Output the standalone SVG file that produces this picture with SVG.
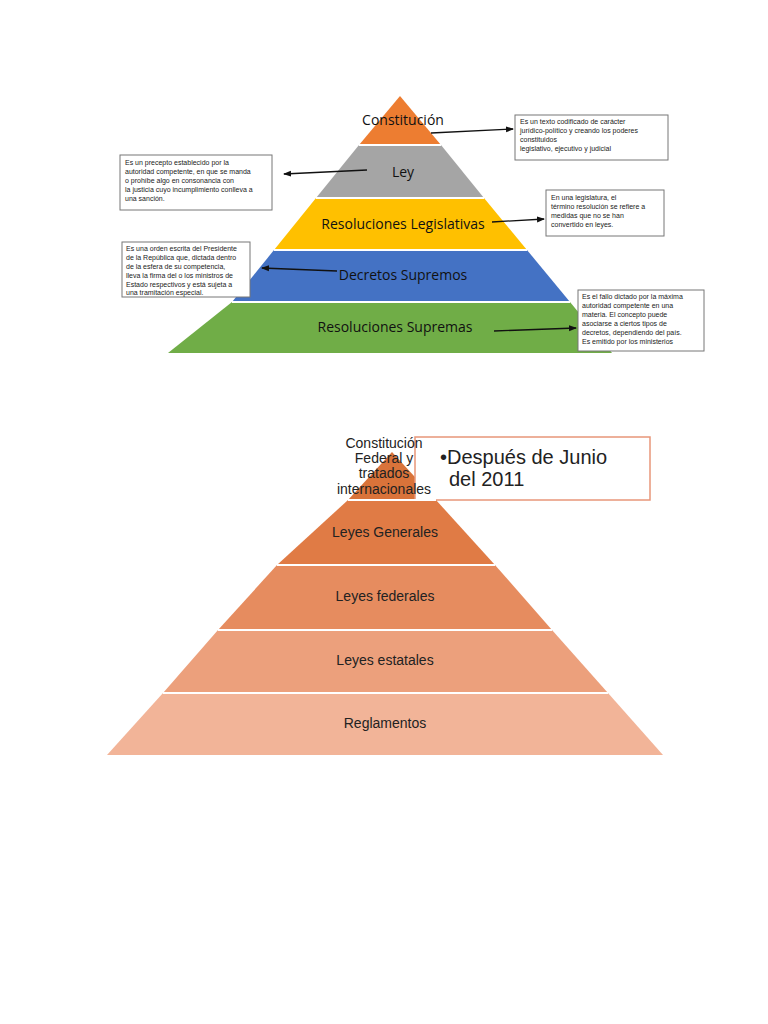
<svg xmlns="http://www.w3.org/2000/svg" width="768" height="1024" viewBox="0 0 768 1024">
<defs>
<marker id="ah" markerWidth="8" markerHeight="8" refX="7" refY="4" orient="auto" markerUnits="userSpaceOnUse"><path d="M0,1 L8,4 L0,7 z" fill="#111"/></marker>
<style>
.lab{font-family:"Open Sans","Liberation Sans",sans-serif;fill:#111;text-anchor:middle}
.sm{font-family:"Liberation Sans",Arial,sans-serif;font-size:7px;fill:#222}
.box{fill:#fff;stroke:#777;stroke-width:1}
.b2{font-family:"Liberation Sans",Arial,sans-serif;fill:#222;text-anchor:middle;font-size:14px}
.sep{stroke:#fff;stroke-width:2}
.arr{stroke:#111;stroke-width:1.3;fill:none;marker-end:url(#ah)}
</style>
</defs>
<rect width="768" height="1024" fill="#fff"/>
<g id="pyramid1">
<g id="constitucion"><polygon points="400,96 441,145 359,145" fill="#ED7D31"/><text class="lab" x="403" y="125" font-size="14">Constitución</text></g>
<g id="ley"><polygon points="359,145 441,145 484,198 316,198" fill="#A5A5A5"/><text class="lab" x="403" y="177" font-size="14">Ley</text></g>
<g id="res-leg"><polygon points="316,198 484,198 527,250 274,250" fill="#FFC000"/><text class="lab" x="403" y="229" font-size="14">Resoluciones Legislativas</text></g>
<g id="decretos"><polygon points="274,250 527,250 570,302 232,302" fill="#4472C4"/><text class="lab" x="403" y="280" font-size="14">Decretos Supremos</text></g>
<g id="res-sup"><polygon points="232,302 570,302 612,353 168,353" fill="#70AD47"/><text class="lab" x="395" y="332" font-size="14">Resoluciones Supremas</text></g>
<line class="sep" x1="359" y1="145" x2="441" y2="145"/><line class="sep" x1="316" y1="198" x2="484" y2="198"/><line class="sep" x1="274" y1="250" x2="527" y2="250"/><line class="sep" x1="232" y1="302" x2="570" y2="302"/>
</g>
<g id="box-const"><rect class="box" x="515" y="115" width="153" height="45"/>
<text class="sm" x="520" y="124">Es un texto codificado de carácter</text><text class="sm" x="520" y="133">jurídico-político y creando los poderes</text><text class="sm" x="520" y="142">constituidos</text><text class="sm" x="520" y="151">legislativo, ejecutivo y judicial</text></g>
<g id="box-ley"><rect class="box" x="120" y="155" width="152" height="55"/>
<text class="sm" x="125" y="165">Es un precepto establecido por la</text><text class="sm" x="125" y="174">autoridad competente, en que se manda</text><text class="sm" x="125" y="183">o prohíbe algo en consonancia con</text><text class="sm" x="125" y="192">la justicia cuyo incumplimiento conlleva a</text><text class="sm" x="125" y="201">una sanción.</text></g>
<g id="box-resleg"><rect class="box" x="546" y="190" width="118" height="46"/>
<text class="sm" x="551" y="200">En una legislatura, el</text><text class="sm" x="551" y="209">término resolución se refiere a</text><text class="sm" x="551" y="218">medidas que no se han</text><text class="sm" x="551" y="227">convertido en leyes.</text></g>
<g id="box-decretos"><rect class="box" x="122" y="242" width="128" height="55"/>
<text class="sm" x="126" y="251">Es una orden escrita del Presidente</text><text class="sm" x="126" y="260">de la República que, dictada dentro</text><text class="sm" x="126" y="269">de la esfera de su competencia,</text><text class="sm" x="126" y="278">lleva la firma del o los ministros de</text><text class="sm" x="126" y="287">Estado respectivos y está sujeta a</text><text class="sm" x="126" y="295">una tramitación especial.</text></g>
<g id="box-ressup"><rect class="box" x="578" y="290" width="126" height="61"/>
<text class="sm" x="582" y="299">Es el fallo dictado por la máxima</text><text class="sm" x="582" y="308">autoridad competente en una</text><text class="sm" x="582" y="317">materia. El concepto puede</text><text class="sm" x="582" y="326">asociarse a ciertos tipos de</text><text class="sm" x="582" y="335">decretos, dependiendo del país.</text><text class="sm" x="582" y="344">Es emitido por los ministerios</text></g>
<g id="connectors">
<line class="arr" x1="431" y1="133" x2="513" y2="129"/>
<line class="arr" x1="367" y1="170" x2="284" y2="174"/>
<line class="arr" x1="492" y1="222" x2="544" y2="219"/>
<line class="arr" x1="337" y1="271" x2="262" y2="268"/>
<line class="arr" x1="494" y1="331" x2="576" y2="328"/>
</g>
<g id="pyramid2">
<g id="p2-const"><polygon points="392,452 436,500 348,500" fill="#D9733A"/></g>
<g id="p2-box"><rect x="415" y="437" width="235" height="63" fill="#fff" stroke="#E8967A" stroke-width="1.5"/><text font-family="Liberation Sans,Arial,sans-serif" font-size="20" fill="#222" x="440" y="464">•Después de Junio</text><text font-family="Liberation Sans,Arial,sans-serif" font-size="20" fill="#222" x="449" y="486">del 2011</text></g>
<g id="p2-consttext"><text class="b2" font-size="12" x="384" y="448">Constitución</text><text class="b2" font-size="12" x="384" y="463">Federal y</text><text class="b2" font-size="12" x="384" y="478">tratados</text><text class="b2" font-size="12" x="384" y="494">internacionales</text></g>
<g id="p2-generales"><polygon points="348,500 436,500 495,565 277,565" fill="#E07B45"/><text class="b2" x="385" y="537">Leyes Generales</text></g>
<g id="p2-federales"><polygon points="277,565 495,565 552,630 218,630" fill="#E68C5F"/><text class="b2" x="385" y="601">Leyes federales</text></g>
<g id="p2-estatales"><polygon points="218,630 552,630 608,693 163,693" fill="#ECA07C"/><text class="b2" x="385" y="665">Leyes estatales</text></g>
<g id="p2-reglamentos"><polygon points="163,693 608,693 663,755 107,755" fill="#F2B498"/><text class="b2" x="385" y="728">Reglamentos</text></g>
<line class="sep" x1="348" y1="500" x2="436" y2="500"/><line class="sep" x1="277" y1="565" x2="495" y2="565"/><line class="sep" x1="218" y1="630" x2="552" y2="630"/><line class="sep" x1="163" y1="693" x2="608" y2="693"/>
</g>
</svg>
